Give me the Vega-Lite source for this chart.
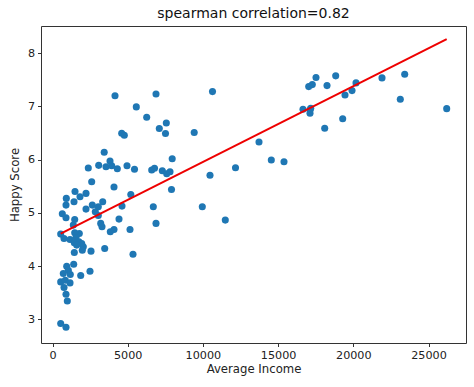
{
  "$schema": "https://vega.github.io/schema/vega-lite/v6.json",
  "autosize": "none",
  "width": 425,
  "height": 317,
  "padding": {"left": 41, "top": 26, "right": 8, "bottom": 44},
  "background": "white",
  "config": {
    "font": "DejaVu Sans",
    "view": {"stroke": "#333333", "strokeWidth": 1},
    "axis": {
      "domain": false,
      "grid": false,
      "tickColor": "#333333",
      "tickSize": 3.5,
      "labelFontSize": 11.2,
      "labelColor": "#222222",
      "titleFontSize": 11.7,
      "titleFontWeight": "normal",
      "titleColor": "#222222",
      "labelFont": "DejaVu Sans",
      "titleFont": "DejaVu Sans"
    }
  },
  "title": {
    "text": "spearman correlation=0.82",
    "fontSize": 14,
    "fontWeight": "normal",
    "font": "DejaVu Sans",
    "color": "#111111",
    "offset": 5
  },
  "datasets": {
    "points": [
      {"income": 4156, "score": 7.20},
      {"income": 6882, "score": 7.234},
      {"income": 10638, "score": 7.277},
      {"income": 5572, "score": 6.99},
      {"income": 6263, "score": 6.796},
      {"income": 4601, "score": 6.495},
      {"income": 4774, "score": 6.457},
      {"income": 7101, "score": 6.585},
      {"income": 7567, "score": 6.688},
      {"income": 7513, "score": 6.491},
      {"income": 9422, "score": 6.51},
      {"income": 13730, "score": 6.331},
      {"income": 3438, "score": 6.137},
      {"income": 7959, "score": 6.015},
      {"income": 2380, "score": 5.842},
      {"income": 3072, "score": 5.892},
      {"income": 3557, "score": 5.866},
      {"income": 3823, "score": 5.973},
      {"income": 3936, "score": 5.885},
      {"income": 4309, "score": 5.828},
      {"income": 4954, "score": 5.883},
      {"income": 5452, "score": 5.819},
      {"income": 6596, "score": 5.804},
      {"income": 6782, "score": 5.836},
      {"income": 7301, "score": 5.789},
      {"income": 7593, "score": 5.734},
      {"income": 7813, "score": 5.772},
      {"income": 10472, "score": 5.706},
      {"income": 12168, "score": 5.847},
      {"income": 2606, "score": 5.584},
      {"income": 4089, "score": 5.484},
      {"income": 1496, "score": 5.40},
      {"income": 7912, "score": 5.437},
      {"income": 5206, "score": 5.343},
      {"income": 14548, "score": 5.992},
      {"income": 15392, "score": 5.96},
      {"income": 16656, "score": 6.946},
      {"income": 17121, "score": 6.933},
      {"income": 17168, "score": 6.965},
      {"income": 17121, "score": 6.871},
      {"income": 17035, "score": 7.371},
      {"income": 17274, "score": 7.409},
      {"income": 17520, "score": 7.541},
      {"income": 18252, "score": 7.39},
      {"income": 18830, "score": 7.573},
      {"income": 18099, "score": 6.589},
      {"income": 19295, "score": 6.769},
      {"income": 19448, "score": 7.215},
      {"income": 19914, "score": 7.296},
      {"income": 20180, "score": 7.441},
      {"income": 21908, "score": 7.535},
      {"income": 23418, "score": 7.605},
      {"income": 23125, "score": 7.134},
      {"income": 26210, "score": 6.957},
      {"income": 918, "score": 5.271},
      {"income": 2227, "score": 5.365},
      {"income": 1828, "score": 5.301},
      {"income": 1430, "score": 5.207},
      {"income": 898, "score": 5.145},
      {"income": 2646, "score": 5.145},
      {"income": 2227, "score": 5.07},
      {"income": 3045, "score": 5.113},
      {"income": 3338, "score": 5.207},
      {"income": 2846, "score": 5.019},
      {"income": 4621, "score": 5.126},
      {"income": 6702, "score": 5.113},
      {"income": 9960, "score": 5.113},
      {"income": 652, "score": 4.982},
      {"income": 898, "score": 4.906},
      {"income": 3045, "score": 4.951},
      {"income": 1476, "score": 4.876},
      {"income": 3205, "score": 4.801},
      {"income": 4422, "score": 4.882},
      {"income": 6882, "score": 4.801},
      {"income": 11489, "score": 4.863},
      {"income": 1383, "score": 4.769},
      {"income": 3291, "score": 4.737},
      {"income": 5153, "score": 4.688},
      {"income": 4089, "score": 4.688},
      {"income": 3843, "score": 4.643},
      {"income": 1782, "score": 4.613},
      {"income": 1476, "score": 4.624},
      {"income": 545, "score": 4.6},
      {"income": 765, "score": 4.519},
      {"income": 1164, "score": 4.5},
      {"income": 1563, "score": 4.537},
      {"income": 1762, "score": 4.455},
      {"income": 1942, "score": 4.425},
      {"income": 1450, "score": 4.436},
      {"income": 2048, "score": 4.361},
      {"income": 1609, "score": 4.393},
      {"income": 1981, "score": 4.298},
      {"income": 2560, "score": 4.28},
      {"income": 1450, "score": 4.255},
      {"income": 3471, "score": 4.33},
      {"income": 5352, "score": 4.223},
      {"income": 1410, "score": 4.035},
      {"income": 944, "score": 3.997},
      {"income": 1051, "score": 3.922},
      {"income": 718, "score": 3.86},
      {"income": 1184, "score": 3.841},
      {"income": 2493, "score": 3.903},
      {"income": 1875, "score": 3.822},
      {"income": 545, "score": 3.702},
      {"income": 851, "score": 3.734},
      {"income": 1164, "score": 3.683},
      {"income": 765, "score": 3.597},
      {"income": 898, "score": 3.47},
      {"income": 984, "score": 3.344},
      {"income": 545, "score": 2.919},
      {"income": 898, "score": 2.85}
    ],
    "fit": [
      {"income": 545, "score": 4.61},
      {"income": 26210, "score": 8.263}
    ]
  },
  "layer": [
    {
      "data": {"name": "points"},
      "mark": {"type": "point", "filled": true, "shape": "circle", "size": 50, "color": "#1f77b4", "opacity": 1},
      "encoding": {
        "x": {
          "field": "income", "type": "quantitative", "title": "Average Income",
          "scale": {"domain": [-765, 27493], "nice": false, "zero": false},
          "axis": {"values": [0, 5000, 10000, 15000, 20000, 25000], "format": "d", "labelPadding": 3, "titlePadding": 3}
        },
        "y": {
          "field": "score", "type": "quantitative", "title": "Happy Score",
          "scale": {"domain": [2.554, 8.51], "nice": false, "zero": false},
          "axis": {"values": [3, 4, 5, 6, 7, 8], "format": "d", "labelPadding": 3, "titlePadding": 7}
        }
      }
    },
    {
      "data": {"name": "fit"},
      "mark": {"type": "line", "color": "#ee0000", "strokeWidth": 2},
      "encoding": {
        "x": {"field": "income", "type": "quantitative"},
        "y": {"field": "score", "type": "quantitative"}
      }
    }
  ]
}
